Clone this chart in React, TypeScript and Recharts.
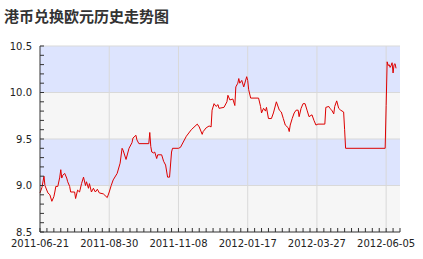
import { LineChart, Line, XAxis, YAxis, CartesianGrid } from 'recharts';

// HKD -> EUR
const dates = [
  '2011-06-21', '2011-06-23', '2011-06-25', '2011-06-26', '2011-06-29', '2011-07-01', '2011-07-03', '2011-07-05',
  '2011-07-06', '2011-07-07', '2011-07-09', '2011-07-11', '2011-07-12', '2011-07-13', '2011-07-14', '2011-07-16',
  '2011-07-18', '2011-07-19', '2011-07-21', '2011-07-22', '2011-07-26', '2011-07-27', '2011-07-29', '2011-07-31',
  '2011-08-02', '2011-08-04', '2011-08-06', '2011-08-07', '2011-08-09', '2011-08-10', '2011-08-12', '2011-08-14',
  '2011-08-16', '2011-08-18', '2011-08-20', '2011-08-24', '2011-08-28', '2011-08-30', '2011-09-01', '2011-09-03',
  '2011-09-07', '2011-09-10', '2011-09-12', '2011-09-13', '2011-09-16', '2011-09-19', '2011-09-22', '2011-09-23',
  '2011-09-26', '2011-09-27', '2011-09-29', '2011-10-09', '2011-10-10', '2011-10-11', '2011-10-12', '2011-10-14',
  '2011-10-15', '2011-10-17', '2011-10-18', '2011-10-22', '2011-10-24', '2011-10-26', '2011-10-28', '2011-10-30',
  '2011-11-01', '2011-11-02', '2011-11-08', '2011-11-10', '2011-11-16', '2011-11-21', '2011-11-27', '2011-11-29',
  '2011-12-02', '2011-12-03', '2011-12-06', '2011-12-09', '2011-12-11', '2011-12-12', '2011-12-14', '2011-12-16',
  '2011-12-18', '2011-12-19', '2011-12-24', '2011-12-27', '2011-12-28', '2011-12-30', '2012-01-02', '2012-01-04',
  '2012-01-05', '2012-01-07', '2012-01-08', '2012-01-09', '2012-01-11', '2012-01-13', '2012-01-16', '2012-01-17',
  '2012-01-18', '2012-01-20', '2012-01-28', '2012-01-30', '2012-01-31', '2012-02-02', '2012-02-04', '2012-02-05',
  '2012-02-07', '2012-02-10', '2012-02-12', '2012-02-15', '2012-02-18', '2012-02-20', '2012-02-22', '2012-02-24',
  '2012-02-27', '2012-02-28', '2012-02-29', '2012-03-02', '2012-03-04', '2012-03-06', '2012-03-08', '2012-03-09',
  '2012-03-11', '2012-03-13', '2012-03-15', '2012-03-17', '2012-03-19', '2012-03-22', '2012-03-24', '2012-03-26',
  '2012-03-28', '2012-04-04', '2012-04-05', '2012-04-08', '2012-04-09', '2012-04-11', '2012-04-13', '2012-04-14',
  '2012-04-16', '2012-04-18', '2012-04-20', '2012-04-23', '2012-04-24', '2012-04-25', '2012-06-04', '2012-06-05',
  '2012-06-06', '2012-06-07', '2012-06-08', '2012-06-09', '2012-06-10', '2012-06-11', '2012-06-12', '2012-06-13',
  '2012-06-14', '2012-06-15',
];

const rates = [
  8.92, 8.98, 9.10, 9.00, 8.92, 8.90, 8.83, 8.88,
  8.93, 8.99, 8.99, 9.09, 9.17, 9.08, 9.11, 9.13,
  9.08, 9.04, 8.99, 8.93, 8.93, 8.86, 8.95, 8.93,
  9.02, 9.09, 9.00, 9.04, 8.97, 9.02, 8.93, 8.97,
  8.93, 8.96, 8.92, 8.91, 8.87, 8.93, 9.00, 9.06,
  9.13, 9.24, 9.40, 9.38, 9.28, 9.40, 9.46, 9.51,
  9.54, 9.49, 9.45, 9.45, 9.57, 9.42, 9.36, 9.35,
  9.36, 9.29, 9.33, 9.33, 9.26, 9.22, 9.09, 9.09,
  9.36, 9.40, 9.40, 9.41, 9.53, 9.60, 9.66, 9.63,
  9.55, 9.58, 9.62, 9.64, 9.63, 9.81, 9.88, 9.85,
  9.87, 9.83, 9.84, 9.90, 9.97, 9.92, 9.93, 9.86,
  10.06, 10.10, 10.15, 10.10, 10.13, 10.06, 10.17, 10.13,
  10.03, 9.94, 9.94, 9.85, 9.78, 9.83, 9.80, 9.84,
  9.72, 9.72, 9.78, 9.90, 9.81, 9.79, 9.72, 9.65,
  9.62, 9.58, 9.65, 9.72, 9.78, 9.81, 9.81, 9.74,
  9.83, 9.88, 9.88, 9.81, 9.74, 9.76, 9.70, 9.65,
  9.66, 9.66, 9.84, 9.85, 9.83, 9.81, 9.77, 9.85,
  9.91, 9.83, 9.81, 9.79, 9.60, 9.40, 9.40, 9.86,
  10.33, 10.29, 10.30, 10.27, 10.29, 10.32, 10.21, 10.30,
  10.31, 10.26,
];

const xLabelDates = ['2011-06-21', '2011-08-30', '2011-11-08', '2012-01-17', '2012-03-27', '2012-06-05'];
const yTicks = [8.5, 8.6, 8.7, 8.8, 8.9, 9.0, 9.1, 9.2, 9.3, 9.4, 9.5, 9.6, 9.7, 9.8, 9.9, 10.0, 10.1, 10.2, 10.3, 10.4, 10.5];
const yLabels = [8.5, 9.0, 9.5, 10.0, 10.5];
const yBandLines = [9.0, 9.5, 10.0, 10.5];

const DAY = 86400000;
const toTime = (s: string) => Date.parse(s + 'T00:00:00Z');
const fmt = (t: number) => new Date(t).toISOString().slice(0, 10);

const start = toTime('2011-06-21');
const end = toTime('2012-06-19');

// weekly minor ticks, labelled every 10th
const xTicks: number[] = [];
for (let t = start; t <= end; t += 7 * DAY) xTicks.push(t);
const xLabelTimes = xLabelDates.map(toTime);

const rows = dates.map((d, i) => ({ t: toTime(d), v: rates[i] }));

const font = { fontSize: 10, fontFamily: 'DejaVu Sans', fill: '#222' };

export default function App() {
  return (
    <div style={{ position: 'absolute', left: 0, top: 0, width: 423, height: 259, background: '#fff' }}>
      <div
        style={{
          position: 'absolute',
          left: 4,
          top: 8,
          fontSize: 15,
          lineHeight: '15px',
          fontWeight: 'bold',
          fontFamily: '"Noto Sans CJK SC"',
          color: '#333',
        }}
      >
        港币兑换欧元历史走势图
      </div>
      <LineChart width={423} height={259} data={rows} margin={{ top: 46, right: 23, bottom: 0, left: 0 }}>
        <CartesianGrid
          stroke="#d9d9d9"
          horizontalValues={yBandLines}
          verticalValues={xLabelTimes.slice(1)}
          horizontalFill={['#dde4fe', '#f6f6f6']}
          fillOpacity={1}
        />
        <XAxis
          dataKey="t"
          type="number"
          domain={[start, end]}
          ticks={xTicks}
          interval={0}
          height={27}
          tickSize={-4}
          tickMargin={12}
          stroke="#333"
          tick={font}
          tickFormatter={(t: number) => (xLabelTimes.includes(t) ? fmt(t) : '')}
        />
        <YAxis
          type="number"
          domain={[8.5, 10.5]}
          ticks={yTicks}
          interval={0}
          width={40}
          tickSize={-4}
          tickMargin={12}
          stroke="#333"
          tick={font}
          tickFormatter={(v: number) => (yLabels.some((l) => Math.abs(l - v) < 1e-6) ? v.toFixed(1) : '')}
        />
        <Line
          dataKey="v"
          type="linear"
          stroke="#dd0000"
          strokeWidth={1}
          dot={false}
          isAnimationActive={false}
        />
      </LineChart>
    </div>
  );
}
